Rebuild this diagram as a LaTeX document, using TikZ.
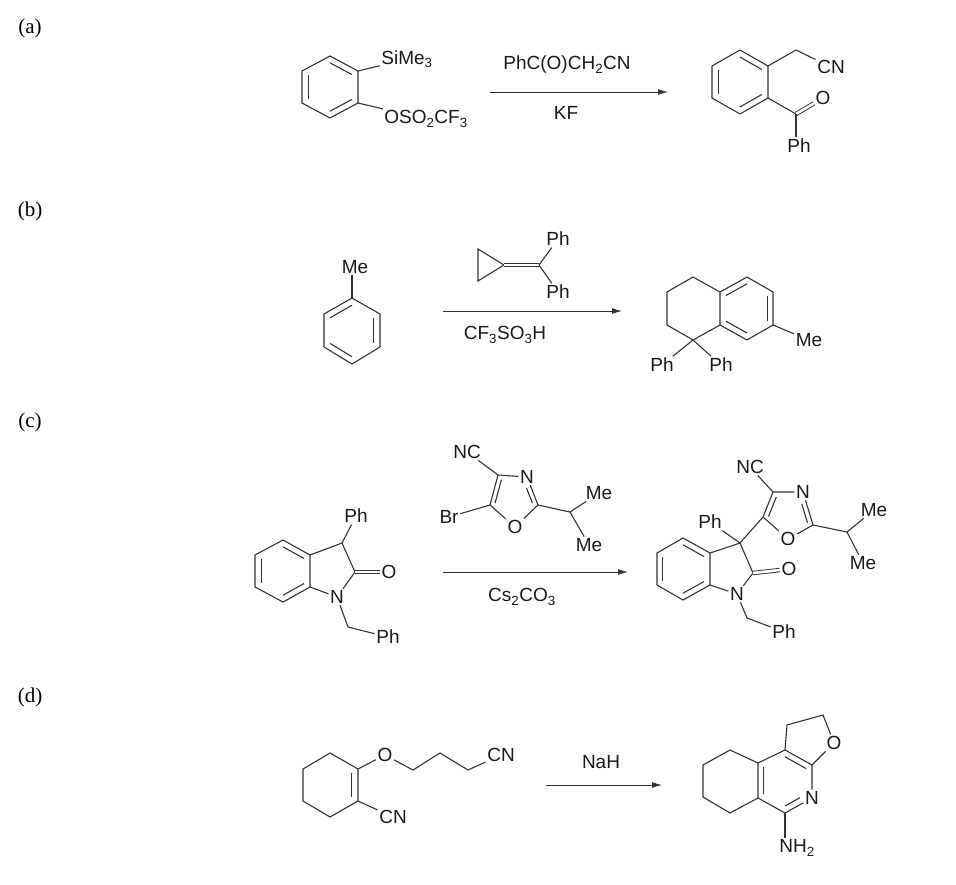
\documentclass[tikz,border=0pt]{standalone}
\usepackage{fontspec}
\setmainfont{Liberation Sans}
\newfontfamily\labfont{Liberation Serif}
\usetikzlibrary{calc,arrows.meta}
\newcommand\innerb[3]{\draw ($(#1)!0.78!(#2)$) -- ($(#1)!0.78!(#3)$);}
\begin{document}
\begin{tikzpicture}[x=1pt,y=-1pt,line width=1.1pt,draw=black!80,
  atm/.style={inner sep=1.2pt,font=\fontsize{19}{22}\selectfont,text=black!90},
  lab/.style={font=\labfont\fontsize{21}{24}\selectfont},
  dbl/.style={double,double distance=2.6pt,line width=0.9pt},
  rxn/.style={-{Latex[length=10pt,width=6pt]},line width=1pt}]
\useasboundingbox (0,0) rectangle (956,884);
% labels
\node[lab] (la) at (30,28) {(a)};
\node[lab] (lb) at (30,211) {(b)};
\node[lab] (lc) at (30,422) {(c)};
\node[lab] (ld) at (30,697) {(d)};
% ===== (a) reactant
\coordinate (ac) at (330,87);
\coordinate (a1) at (330,56); \coordinate (a2) at (358,71); \coordinate (a3) at (358,103);
\coordinate (a4) at (330,118); \coordinate (a5) at (302,103); \coordinate (a6) at (302,71);
\draw (a1)--(a2)--(a3)--(a4)--(a5)--(a6)--cycle;
\innerb{ac}{a6}{a5}\innerb{ac}{a1}{a2}\innerb{ac}{a3}{a4}
\node[atm] (tms) at (407,59) {SiMe\textsubscript{3}};
\node[atm] (otf) at (426,119) {OSO\textsubscript{2}CF\textsubscript{3}};
\draw (a2)--(tms); \draw (a3)--(otf);
% arrow a
\coordinate (aa1) at (490,92); \coordinate (aa2) at (668,92);
\draw[rxn] (aa1)--(aa2);
\node[atm] (ra1) at (567,65) {PhC(O)CH\textsubscript{2}CN};
\node[atm] (ra2) at (566,113) {KF};
% (a) product
\coordinate (bc) at (740,82);
\coordinate (b1) at (740,50); \coordinate (b2) at (768,66); \coordinate (b3) at (768,98);
\coordinate (b4) at (740,114); \coordinate (b5) at (712,98); \coordinate (b6) at (712,66);
\draw (b1)--(b2)--(b3)--(b4)--(b5)--(b6)--cycle;
\innerb{bc}{b6}{b5}\innerb{bc}{b1}{b2}\innerb{bc}{b3}{b4}
\coordinate (bch2) at (796,50); \node[atm] (bcn) at (831,67) {CN};
\draw (b2)--(bch2)--(bcn);
\coordinate (bco) at (796,114); \node[atm] (bo) at (823,98) {O}; \node[atm] (bph) at (799,146) {Ph};
\draw (b3)--(bco); \draw[dbl] (bco)--(bo); \draw (bco)--(bco|-bph.north);
% ===== (b) toluene
\coordinate (tc) at (352,331);
\coordinate (t1) at (352,298); \coordinate (t2) at (380,314); \coordinate (t3) at (380,347);
\coordinate (t4) at (352,364); \coordinate (t5) at (324,347); \coordinate (t6) at (324,314);
\draw (t1)--(t2)--(t3)--(t4)--(t5)--(t6)--cycle;
\innerb{tc}{t6}{t1}\innerb{tc}{t2}{t3}\innerb{tc}{t5}{t4}
\node[atm] (tme) at (355,267) {Me};
\draw (t1)--(t1|-tme.south);
% cyclopropylidene
\coordinate (p1) at (478,249); \coordinate (p2) at (478,281); \coordinate (p3) at (504,265); \coordinate (p4) at (539,265);
\draw (p1)--(p2)--(p3)--cycle; \draw[dbl] (p3)--(p4);
\node[atm] (pph1) at (558,239) {Ph}; \node[atm] (pph2) at (558,292) {Ph};
\draw (p4)--(pph1); \draw (p4)--(pph2);
\coordinate (ba1) at (443,311); \coordinate (ba2) at (622,311);
\draw[rxn] (ba1)--(ba2);
\node[atm] (rb) at (505,335) {CF\textsubscript{3}SO\textsubscript{3}H};
% (b) product
\coordinate (rc) at (747,308);
\coordinate (r1) at (747,277); \coordinate (r2) at (773,292); \coordinate (r3) at (773,325);
\coordinate (r4) at (747,340); \coordinate (r5) at (720,325); \coordinate (r6) at (720,292);
\draw (r1)--(r2)--(r3)--(r4)--(r5)--(r6)--cycle;
\innerb{rc}{r6}{r1}\innerb{rc}{r2}{r3}\innerb{rc}{r5}{r4}
\coordinate (s1) at (693,277); \coordinate (s2) at (667,292); \coordinate (s3) at (667,325); \coordinate (s4) at (693,340);
\draw (r6)--(s1)--(s2)--(s3)--(s4)--(r5);
\node[atm] (sph1) at (662,365) {Ph}; \node[atm] (sph2) at (721,365) {Ph}; \node[atm] (sme) at (809,340) {Me};
\draw (s4)--(sph1); \draw (s4)--(sph2); \draw (r3)--(sme);
% ===== (c) reactant
\coordinate (cc) at (283,571);
\coordinate (c1) at (283,540); \coordinate (c2) at (310,555); \coordinate (c3) at (310,587);
\coordinate (c4) at (283,602); \coordinate (c5) at (255,587); \coordinate (c6) at (255,555);
\draw (c1)--(c2)--(c3)--(c4)--(c5)--(c6)--cycle;
\innerb{cc}{c6}{c5}\innerb{cc}{c1}{c2}\innerb{cc}{c3}{c4}
\coordinate (cC3) at (342,543); \coordinate (cC2) at (355,572);
\node[atm] (cN) at (337,597) {N}; \node[atm] (cO) at (389,572) {O}; \node[atm] (cPh) at (356,516) {Ph};
\coordinate (cCH2) at (348,627); \node[atm] (cPh2) at (388,637) {Ph};
\draw (c2)--(cC3)--(cC2)--(cN)--(c3); \draw[dbl] (cC2)--(cO);
\draw (cC3)--(cPh); \draw (cN)--(cCH2)--(cPh2);
% oxazole reagent
\coordinate (oc) at (513,497);
\coordinate (oC4) at (498,475); \node[atm] (oN) at (527,477) {N}; \coordinate (oC2) at (538,505);
\node[atm] (oO) at (515,527) {O}; \coordinate (oC5) at (490,505);
\draw (oC4)--(oN)--(oC2)--(oO)--(oC5)--(oC4);
\innerb{oc}{oC4}{oC5}
\draw[shorten >=7pt] ($(oc)!0.78!(oC2)$) -- ($(oc)!0.78!(oN)$);
\node[atm] (oNC) at (467,452) {NC}; \node[atm] (oBr) at (449,517) {Br};
\coordinate (oCH) at (570,512); \node[atm] (oMe1) at (599,493) {Me}; \node[atm] (oMe2) at (589,545) {Me};
\draw (oC4)--(oNC); \draw (oC5)--(oBr); \draw (oC2)--(oCH)--(oMe1); \draw (oCH)--(oMe2);
\coordinate (ca1) at (443,572); \coordinate (ca2) at (628,572);
\draw[rxn] (ca1)--(ca2);
\node[atm] (rc1) at (522,597) {Cs\textsubscript{2}CO\textsubscript{3}};
% (c) product
\coordinate (dc) at (683,569);
\coordinate (d1) at (683,538); \coordinate (d2) at (710,553); \coordinate (d3) at (710,585);
\coordinate (d4) at (683,600); \coordinate (d5) at (657,585); \coordinate (d6) at (657,553);
\draw (d1)--(d2)--(d3)--(d4)--(d5)--(d6)--cycle;
\innerb{dc}{d6}{d5}\innerb{dc}{d1}{d2}\innerb{dc}{d3}{d4}
\coordinate (dC3) at (740,543); \coordinate (dC2) at (753,573);
\node[atm] (dN) at (737,594) {N}; \node[atm] (dO) at (789,569) {O}; \node[atm] (dPh) at (710,522) {Ph};
\coordinate (dCH2) at (747,618); \node[atm] (dPh2) at (784,632) {Ph};
\draw (d2)--(dC3)--(dC2)--(dN)--(d3); \draw[dbl] (dC2)--(dO);
\draw (dC3)--(dPh); \draw (dN)--(dCH2)--(dPh2);
\coordinate (qc) at (788,515);
\coordinate (qC5) at (763,517); \coordinate (qC4) at (773,492); \node[atm] (qN) at (803,492) {N};
\coordinate (qC2) at (813,525); \node[atm] (qO) at (788,539) {O};
\draw (qC4)--(qN)--(qC2)--(qO)--(qC5)--(qC4);
\innerb{qc}{qC4}{qC5}
\draw[shorten >=7pt] ($(qc)!0.78!(qC2)$) -- ($(qc)!0.78!(qN)$);
\draw (dC3)--(qC5);
\node[atm] (qNC) at (750,467) {NC};
\coordinate (qCH) at (847,532); \node[atm] (qMe1) at (874,510) {Me}; \node[atm] (qMe2) at (863,563) {Me};
\draw (qC4)--(qNC); \draw (qC2)--(qCH)--(qMe1); \draw (qCH)--(qMe2);
% ===== (d) reactant
\coordinate (ec) at (330,785);
\coordinate (e1) at (330,753); \coordinate (e2) at (358,769); \coordinate (e3) at (358,801);
\coordinate (e4) at (330,817); \coordinate (e5) at (303,801); \coordinate (e6) at (303,769);
\draw (e1)--(e2)--(e3)--(e4)--(e5)--(e6)--cycle;
\innerb{ec}{e2}{e3}
\node[atm] (eO) at (385,755) {O};
\coordinate (k1) at (413,770); \coordinate (k2) at (440,753); \coordinate (k3) at (468,770);
\node[atm] (eCN) at (501,755) {CN}; \node[atm] (eCN2) at (393,817) {CN};
\draw (e2)--(eO)--(k1)--(k2)--(k3)--(eCN); \draw (e3)--(eCN2);
\coordinate (da1) at (546,785); \coordinate (da2) at (662,785);
\draw[rxn] (da1)--(da2);
\node[atm] (rd) at (601,762) {NaH};
% (d) product
\coordinate (fc) at (785,781);
\coordinate (f1) at (785,750); \coordinate (f2) at (812,765); \node[atm] (fN) at (812,798) {N};
\coordinate (f4) at (785,813); \coordinate (f5) at (758,798); \coordinate (f6) at (758,763);
\draw (f1)--(f2)--(fN)--(f4)--(f5)--(f6)--(f1);
\innerb{fc}{f6}{f5}\innerb{fc}{f1}{f2}
\draw[shorten >=7pt] ($(fc)!0.78!(f4)$) -- ($(fc)!0.78!(fN)$);
\coordinate (g1) at (730,750); \coordinate (g2) at (703,765); \coordinate (g3) at (703,797); \coordinate (g4) at (730,813);
\draw (f6)--(g1)--(g2)--(g3)--(g4)--(f5);
\coordinate (h1) at (787,725); \coordinate (h2) at (823,715); \node[atm] (fO) at (834,743) {O};
\draw (f1)--(h1)--(h2)--(fO)--(f2);
\node[atm] (fNH2) at (797,848) {NH\textsubscript{2}};
\draw (f4)--(f4|-fNH2.north);
\end{tikzpicture}
\end{document}
